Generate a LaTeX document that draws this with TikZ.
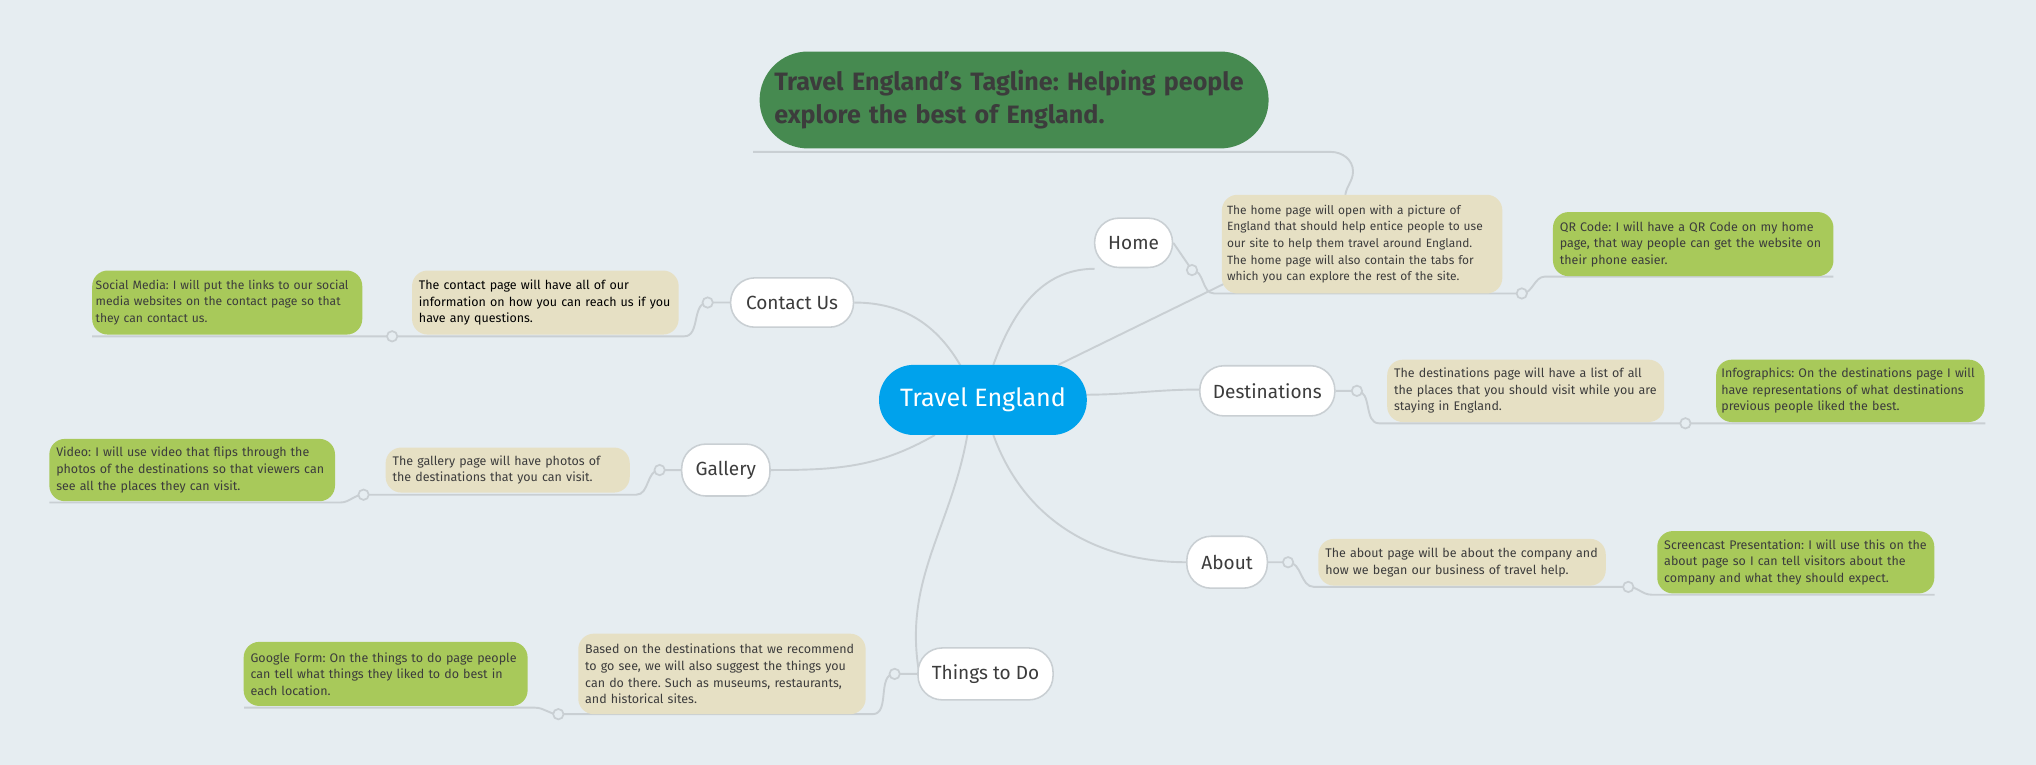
\documentclass[tikz,border=0pt]{standalone}
\usepackage{fontspec}
\setmainfont{Fira Sans}
\frenchspacing
\hyphenpenalty=10000
\exhyphenpenalty=10000
\begin{document}
\begin{tikzpicture}[x=0.75pt,y=-0.75pt,
  ln/.style={draw=lineg,line width=1.1pt},
  dot/.style={circle,draw=lineg,fill=bgc,line width=1pt,inner sep=0pt,minimum size=6pt},
  mainb/.style={draw=lineg,line width=0.9pt,fill=white,rounded corners=14pt,font=\fontsize{11}{13}\selectfont,text=textg},
  desc/.style={fill=tanc,rounded corners=9pt,font=\fontsize{7.2}{9.6}\selectfont,align=left,text=textg,inner sep=2pt},
  leaf/.style={fill=greenc,rounded corners=9pt,font=\fontsize{7.2}{9.6}\selectfont,align=left,text=textg,inner sep=2pt}]
\definecolor{bgc}{HTML}{E6EDF1}
\definecolor{lineg}{HTML}{C9CFD3}
\definecolor{textg}{HTML}{3C3C3C}
\definecolor{tanc}{HTML}{E6E0C4}
\definecolor{greenc}{HTML}{A8C95A}
\definecolor{tagc}{HTML}{468A50}
\definecolor{cenc}{HTML}{00A2EC}
\fill[bgc] (0,0) rectangle (1568,589);
\useasboundingbox (0,0) rectangle (1568,589);
% tagline
\draw[ln] (580,117) coordinate (tl1) -- (1025,117) to[out=0,in=90] (1042,132) to[out=-90,in=90] (1036,152) coordinate (tl2);
\node[fill=tagc,rounded corners=28pt,minimum width=294pt,minimum height=56pt,text width=277pt,align=left,font=\bfseries\fontsize{14.5}{19}\selectfont,text=textg] (tag) at (781,77) {Travel England's Tagline: Helping people explore the best of England.};
% center connectors
\coordinate (c1) at (765,281);
\draw[ln] (c1) to[out=70,in=180] (843,207) coordinate (hl);
\draw[ln] (815,281) -- (950,215);
\draw[ln] (835,304) to[out=0,in=180] (924,300);
\draw[ln] (765,335) to[out=-70,in=180] (914,433);
\draw[ln] (745,335) to[out=-100,in=100] (708,519);
\draw[ln] (740,282) to[out=120,in=0] (658,233);
\draw[ln] (720,335) to[out=-150,in=0] (593,362);
% nodes
\node[fill=cenc,rounded corners=20pt,minimum width=120pt,minimum height=40.5pt,text=white,font=\fontsize{14.5}{18}\selectfont] (cen) at (757,308) {Travel England};
\node[mainb,minimum width=45pt,minimum height=28.5pt] (home) at (873,187) {Home};
\node[mainb,minimum width=71pt,minimum height=28.5pt] (contact) at (610,233) {Contact Us};
\node[mainb,minimum width=78pt,minimum height=29pt] (dest) at (976,301) {Destinations};
\node[mainb,minimum width=51pt,minimum height=30pt] (gal) at (559,362) {Gallery};
\node[mainb,minimum width=46.5pt,minimum height=30pt] (about) at (945,433) {About};
\node[mainb,minimum width=78pt,minimum height=30pt] (things) at (759,519) {Things to Do};
% right branches
\draw[ln] (home.east) -- (918,208) to[out=0,in=180] (935,226) -- (1172,226) to[out=0,in=180] (1190,213) -- (1412,213);
\draw[ln] (dest.east) -- (1045,301) to[out=0,in=180] (1062,326) -- (1298,326) to[out=0,in=180] (1316,326) -- (1529,326);
\draw[ln] (about.east) -- (992,433) to[out=0,in=180] (1012,452) -- (1254,452) to[out=0,in=180] (1272,458) -- (1490,458);
% left branches
\draw[ln] (contact.west) -- (545,233) to[out=180,in=0] (527,259) -- (302,259) to[out=180,in=0] (285,259) -- (71,259);
\draw[ln] (gal.west) -- (508,362) to[out=180,in=0] (490,381) -- (280,381) to[out=180,in=0] (262,387) -- (38,387);
\draw[ln] (things.west) -- (689,519) to[out=180,in=0] (672,550) -- (430,550) to[out=180,in=0] (412,545) -- (188,545);
% dots
\foreach \p in {(918,208),(1172,226),(1045,301),(1298,326),(992,433),(1254,452),(545,233),(302,259),(508,362),(280,381),(689,519),(430,550)}
  \node[dot] at \p {};
% descriptions
\node[desc,minimum width=162pt,minimum height=57pt,text width=156pt,font=\fontsize{6.9}{9.6}\selectfont] (hd) at (1049,188) {The home page will open with a picture of\\ England that should help entice people to use\\ our site to help them travel around England.\\ The home page will also contain the tabs for\\ which you can explore the rest of the site.};
\node[leaf,minimum width=162pt,minimum height=37pt,text width=154pt] (qr) at (1304,188) {QR Code: I will have a QR Code on my home page, that way people can get the website on their phone easier.};
\node[desc,minimum width=154pt,minimum height=37pt,text width=146pt,text=black] (cd) at (420,233) {The contact page will have all of our information on how you can reach us if you have any questions.};
\node[leaf,minimum width=156pt,minimum height=37pt,text width=152pt,font=\fontsize{7}{9.6}\selectfont] (soc) at (175,233) {Social Media: I will put the links to our social\\ media websites on the contact page so that\\ they can contact us.};
\node[desc,minimum width=160pt,minimum height=36pt,text width=152pt] (dd) at (1175,301) {The destinations page will have a list of all the places that you should visit while you are staying in England.};
\node[leaf,minimum width=155pt,minimum height=36pt,text width=149pt] (inf) at (1425,301) {Infographics: On the destinations page I will have representations of what destinations previous people liked the best.};
\node[desc,minimum width=141pt,minimum height=26pt,text width=133pt] (gd) at (391,362) {The gallery page will have photos of the destinations that you can visit.};
\node[leaf,minimum width=165pt,minimum height=36pt,text width=157pt] (vid) at (148,362) {Video: I will use video that flips through the photos of the destinations so that viewers can see all the places they can visit.};
\node[desc,minimum width=166pt,minimum height=27pt,text width=158pt] (ad) at (1126,433) {The about page will be about the company and how we began our business of travel help.};
\node[leaf,minimum width=160pt,minimum height=36pt,text width=152pt] (scr) at (1383,433) {Screencast Presentation: I will use this on the about page so I can tell visitors about the company and what they should expect.};
\node[desc,minimum width=166pt,minimum height=46.5pt,text width=158pt] (td) at (556,519) {Based on the destinations that we recommend to go see, we will also suggest the things you can do there. Such as museums, restaurants, and historical sites.};
\node[leaf,minimum width=164pt,minimum height=37pt,text width=156pt] (goo) at (297,519) {Google Form: On the things to do page people can tell what things they liked to do best in each location.};
\end{tikzpicture}
\end{document}
